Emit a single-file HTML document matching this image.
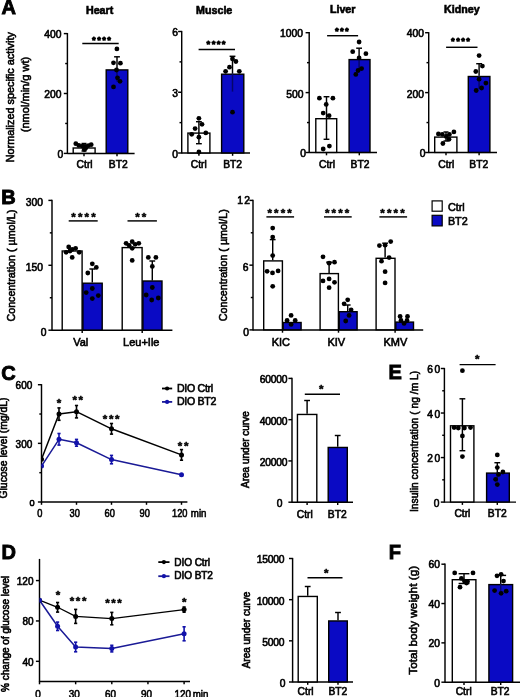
<!DOCTYPE html>
<html><head><meta charset="utf-8"><title>Figure</title>
<style>
html,body{margin:0;padding:0;background:#fff;}
body{width:520px;height:697px;overflow:hidden;}
svg{display:block;filter:blur(0.35px);}
text{font-family:"Liberation Sans", Arial, Helvetica, sans-serif;fill:#000;stroke:#000;stroke-width:0.6px;}
.pl{stroke-width:0.9px;}
.st{stroke-width:0.8px;stroke-linejoin:round;}
.st2{stroke-width:0.5px;stroke-linejoin:round;}
</style></head>
<body>
<svg width="520" height="697" viewBox="0 0 520 697">
<rect width="520" height="697" fill="#fff"/>
<text x="1.5" y="14.1" font-size="20" font-weight="bold" class="pl">A</text>
<text x="1.3" y="203.9" font-size="20" font-weight="bold" class="pl">B</text>
<text x="1.2" y="379.5" font-size="20" font-weight="bold" class="pl">C</text>
<text x="1.4" y="558.5" font-size="20" font-weight="bold" class="pl">D</text>
<text x="388.4" y="379.3" font-size="20" font-weight="bold" class="pl">E</text>
<text x="388.7" y="558.5" font-size="20" font-weight="bold" class="pl">F</text>
<text x="99.6" y="13.8" font-size="10.7" text-anchor="middle" font-weight="bold">Heart</text>
<line x1="67.4" y1="33" x2="67.4" y2="154" stroke="#000" stroke-width="1.45"/>
<line x1="63.8" y1="153.4" x2="67.4" y2="153.4" stroke="#000" stroke-width="1.45"/>
<line x1="63.8" y1="93.5" x2="67.4" y2="93.5" stroke="#000" stroke-width="1.45"/>
<line x1="63.8" y1="33.6" x2="67.4" y2="33.6" stroke="#000" stroke-width="1.45"/>
<line x1="65.2" y1="123.45" x2="67.4" y2="123.45" stroke="#000" stroke-width="1.45"/>
<line x1="65.2" y1="63.55" x2="67.4" y2="63.55" stroke="#000" stroke-width="1.45"/>
<text x="61.5" y="38.11" font-size="10.3" text-anchor="end">400</text>
<text x="61.5" y="97.71" font-size="10.3" text-anchor="end">200</text>
<text x="63.2" y="157.51" font-size="10.3" text-anchor="end">0</text>
<line x1="67.4" y1="153.4" x2="134.6" y2="153.4" stroke="#000" stroke-width="1.45"/>
<line x1="84" y1="153.4" x2="84" y2="156.2" stroke="#000" stroke-width="1.45"/>
<line x1="117" y1="153.4" x2="117" y2="156.2" stroke="#000" stroke-width="1.45"/>
<rect x="73.2" y="148" width="21.9" height="5.3" fill="#fff" stroke="#000" stroke-width="1.4"/>
<rect x="106.2" y="69.9" width="21.6" height="83.4" fill="#0a0ac4" stroke="#000" stroke-width="1.4"/>
<line x1="117" y1="69.2" x2="117" y2="81.6" stroke="#06066a" stroke-width="1.45"/>
<line x1="117" y1="69.2" x2="117" y2="56.8" stroke="#000" stroke-width="1.45"/>
<line x1="114.1" y1="56.8" x2="119.9" y2="56.8" stroke="#000" stroke-width="1.45"/>
<line x1="84" y1="151" x2="84" y2="143.5" stroke="#000" stroke-width="1.45"/>
<line x1="81.5" y1="143.5" x2="86.5" y2="143.5" stroke="#000" stroke-width="1.45"/>
<line x1="81.5" y1="151" x2="86.5" y2="151" stroke="#000" stroke-width="1.45"/>
<circle cx="116.9" cy="48.9" r="2.4" fill="#000"/>
<circle cx="113.5" cy="62.8" r="2.4" fill="#000"/>
<circle cx="120.4" cy="63.2" r="2.4" fill="#000"/>
<circle cx="117.5" cy="77.8" r="2.4" fill="#000"/>
<circle cx="120" cy="81.3" r="2.4" fill="#000"/>
<circle cx="113.5" cy="86.9" r="2.4" fill="#000"/>
<circle cx="116.5" cy="70" r="2.4" fill="#000"/>
<circle cx="75.8" cy="143.7" r="2.4" fill="#000"/>
<circle cx="78.8" cy="145.4" r="2.4" fill="#000"/>
<circle cx="82.4" cy="146.2" r="2.4" fill="#000"/>
<circle cx="85.6" cy="146.4" r="2.4" fill="#000"/>
<circle cx="88.4" cy="145.6" r="2.4" fill="#000"/>
<circle cx="91.2" cy="144.7" r="2.4" fill="#000"/>
<circle cx="84.3" cy="149.6" r="2.4" fill="#000"/>
<circle cx="85.6" cy="148.3" r="2.4" fill="#000"/>
<line x1="82.3" y1="43.4" x2="118.7" y2="43.4" stroke="#000" stroke-width="1.45"/>
<text x="102.17" y="43.1" font-size="9.5" text-anchor="middle" font-weight="bold" letter-spacing="1.33" class="st">****</text>
<text x="84.6" y="167.7" font-size="10.3" text-anchor="middle">Ctrl</text>
<text x="118.3" y="167.7" font-size="10.3" text-anchor="middle">BT2</text>
<text x="14.3" y="97.25" font-size="10.85" text-anchor="middle" transform="rotate(-90 14.3 97.25)">Normalized specific activity</text>
<text x="28.6" y="94.5" font-size="11.05" text-anchor="middle" transform="rotate(-90 28.6 94.5)">(nmol/min/g wt)</text>
<text x="214.2" y="13.6" font-size="10.7" text-anchor="middle" font-weight="bold">Muscle</text>
<line x1="181.7" y1="30.9" x2="181.7" y2="153.6" stroke="#000" stroke-width="1.45"/>
<line x1="178.1" y1="153" x2="181.7" y2="153" stroke="#000" stroke-width="1.45"/>
<line x1="178.1" y1="92.25" x2="181.7" y2="92.25" stroke="#000" stroke-width="1.45"/>
<line x1="178.1" y1="31.5" x2="181.7" y2="31.5" stroke="#000" stroke-width="1.45"/>
<line x1="179.5" y1="122.62" x2="181.7" y2="122.62" stroke="#000" stroke-width="1.45"/>
<line x1="179.5" y1="61.88" x2="181.7" y2="61.88" stroke="#000" stroke-width="1.45"/>
<text x="178" y="35.81" font-size="10.3" text-anchor="end">6</text>
<text x="178" y="96.61" font-size="10.3" text-anchor="end">3</text>
<text x="178" y="157.61" font-size="10.3" text-anchor="end">0</text>
<line x1="181.7" y1="153" x2="250" y2="153" stroke="#000" stroke-width="1.45"/>
<line x1="198.9" y1="153" x2="198.9" y2="155.8" stroke="#000" stroke-width="1.45"/>
<line x1="232.6" y1="153" x2="232.6" y2="155.8" stroke="#000" stroke-width="1.45"/>
<rect x="187.9" y="133.1" width="22" height="19.8" fill="#fff" stroke="#000" stroke-width="1.4"/>
<rect x="221.6" y="74.2" width="22.2" height="78.7" fill="#0a0ac4" stroke="#000" stroke-width="1.4"/>
<line x1="198.9" y1="143.7" x2="198.9" y2="121.7" stroke="#000" stroke-width="1.45"/>
<line x1="196" y1="121.7" x2="201.8" y2="121.7" stroke="#000" stroke-width="1.45"/>
<line x1="196" y1="143.7" x2="201.8" y2="143.7" stroke="#000" stroke-width="1.45"/>
<line x1="232.5" y1="73.5" x2="232.5" y2="91.6" stroke="#06066a" stroke-width="1.45"/>
<line x1="232.5" y1="73.5" x2="232.5" y2="56.3" stroke="#000" stroke-width="1.45"/>
<line x1="229.6" y1="56.3" x2="235.4" y2="56.3" stroke="#000" stroke-width="1.45"/>
<circle cx="198.9" cy="118.3" r="2.4" fill="#000"/>
<circle cx="202" cy="124.3" r="2.4" fill="#000"/>
<circle cx="195.1" cy="128.6" r="2.4" fill="#000"/>
<circle cx="191.7" cy="134.3" r="2.4" fill="#000"/>
<circle cx="205.8" cy="132.9" r="2.4" fill="#000"/>
<circle cx="198.9" cy="137.2" r="2.4" fill="#000"/>
<circle cx="198.9" cy="152" r="2.4" fill="#000"/>
<circle cx="232.5" cy="58.9" r="2.4" fill="#000"/>
<circle cx="235.9" cy="61.5" r="2.4" fill="#000"/>
<circle cx="229.5" cy="67.2" r="2.4" fill="#000"/>
<circle cx="225.6" cy="71.3" r="2.4" fill="#000"/>
<circle cx="239.3" cy="71.3" r="2.4" fill="#000"/>
<circle cx="232.5" cy="112.2" r="2.4" fill="#000"/>
<line x1="198.6" y1="49.5" x2="235" y2="49.5" stroke="#000" stroke-width="1.45"/>
<text x="216.67" y="47.3" font-size="9.5" text-anchor="middle" font-weight="bold" letter-spacing="1.33" class="st">****</text>
<text x="198.8" y="167.7" font-size="10.3" text-anchor="middle">Ctrl</text>
<text x="232.6" y="167.7" font-size="10.3" text-anchor="middle">BT2</text>
<text x="342.7" y="12.8" font-size="10.7" text-anchor="middle" font-weight="bold">Liver</text>
<line x1="309.2" y1="32.1" x2="309.2" y2="153.1" stroke="#000" stroke-width="1.45"/>
<line x1="305.6" y1="152.5" x2="309.2" y2="152.5" stroke="#000" stroke-width="1.45"/>
<line x1="305.6" y1="92.6" x2="309.2" y2="92.6" stroke="#000" stroke-width="1.45"/>
<line x1="305.6" y1="32.7" x2="309.2" y2="32.7" stroke="#000" stroke-width="1.45"/>
<line x1="307" y1="122.55" x2="309.2" y2="122.55" stroke="#000" stroke-width="1.45"/>
<line x1="307" y1="62.65" x2="309.2" y2="62.65" stroke="#000" stroke-width="1.45"/>
<text x="302.9" y="37.41" font-size="10.3" text-anchor="end">1000</text>
<text x="303.4" y="97.61" font-size="10.3" text-anchor="end">500</text>
<text x="306" y="156.61" font-size="10.3" text-anchor="end">0</text>
<line x1="309.2" y1="152.5" x2="377" y2="152.5" stroke="#000" stroke-width="1.45"/>
<line x1="326.5" y1="152.5" x2="326.5" y2="155.3" stroke="#000" stroke-width="1.45"/>
<line x1="359.3" y1="152.5" x2="359.3" y2="155.3" stroke="#000" stroke-width="1.45"/>
<rect x="315.8" y="118.7" width="20.9" height="33.7" fill="#fff" stroke="#000" stroke-width="1.4"/>
<rect x="349.1" y="59.6" width="20.9" height="92.8" fill="#0a0ac4" stroke="#000" stroke-width="1.4"/>
<line x1="326.5" y1="139.3" x2="326.5" y2="96.7" stroke="#000" stroke-width="1.45"/>
<line x1="323.6" y1="96.7" x2="329.4" y2="96.7" stroke="#000" stroke-width="1.45"/>
<line x1="323.6" y1="139.3" x2="329.4" y2="139.3" stroke="#000" stroke-width="1.45"/>
<line x1="359.1" y1="58.9" x2="359.1" y2="69.6" stroke="#06066a" stroke-width="1.45"/>
<line x1="359.1" y1="58.9" x2="359.1" y2="48.2" stroke="#000" stroke-width="1.45"/>
<line x1="356.2" y1="48.2" x2="362" y2="48.2" stroke="#000" stroke-width="1.45"/>
<circle cx="319.4" cy="98.2" r="2.4" fill="#000"/>
<circle cx="332.9" cy="98.2" r="2.4" fill="#000"/>
<circle cx="326.2" cy="104.4" r="2.4" fill="#000"/>
<circle cx="323.2" cy="113.1" r="2.4" fill="#000"/>
<circle cx="329.1" cy="115.7" r="2.4" fill="#000"/>
<circle cx="323.2" cy="149" r="2.4" fill="#000"/>
<circle cx="329.4" cy="146.1" r="2.4" fill="#000"/>
<circle cx="359.1" cy="42" r="2.4" fill="#000"/>
<circle cx="352.7" cy="51.7" r="2.4" fill="#000"/>
<circle cx="365.9" cy="53.7" r="2.4" fill="#000"/>
<circle cx="359.1" cy="57.9" r="2.4" fill="#000"/>
<circle cx="361.6" cy="68.6" r="2.4" fill="#000"/>
<circle cx="355.8" cy="74.4" r="2.4" fill="#000"/>
<circle cx="358.1" cy="70.5" r="2.4" fill="#000"/>
<line x1="327.1" y1="35.7" x2="358.1" y2="35.7" stroke="#000" stroke-width="1.45"/>
<text x="342.57" y="33.7" font-size="9.5" text-anchor="middle" font-weight="bold" letter-spacing="1.33" class="st">***</text>
<text x="327" y="167.7" font-size="10.3" text-anchor="middle">Ctrl</text>
<text x="360" y="167.7" font-size="10.3" text-anchor="middle">BT2</text>
<text x="461.8" y="12.6" font-size="10.7" text-anchor="middle" font-weight="bold">Kidney</text>
<line x1="428.7" y1="32.1" x2="428.7" y2="153.1" stroke="#000" stroke-width="1.45"/>
<line x1="425.1" y1="152.5" x2="428.7" y2="152.5" stroke="#000" stroke-width="1.45"/>
<line x1="425.1" y1="92.6" x2="428.7" y2="92.6" stroke="#000" stroke-width="1.45"/>
<line x1="425.1" y1="32.7" x2="428.7" y2="32.7" stroke="#000" stroke-width="1.45"/>
<line x1="426.5" y1="122.55" x2="428.7" y2="122.55" stroke="#000" stroke-width="1.45"/>
<line x1="426.5" y1="62.65" x2="428.7" y2="62.65" stroke="#000" stroke-width="1.45"/>
<text x="424" y="37.41" font-size="10.3" text-anchor="end">400</text>
<text x="424" y="97.71" font-size="10.3" text-anchor="end">200</text>
<text x="425.5" y="157.41" font-size="10.3" text-anchor="end">0</text>
<line x1="428.7" y1="152.5" x2="497" y2="152.5" stroke="#000" stroke-width="1.45"/>
<line x1="446" y1="152.5" x2="446" y2="155.3" stroke="#000" stroke-width="1.45"/>
<line x1="479.1" y1="152.5" x2="479.1" y2="155.3" stroke="#000" stroke-width="1.45"/>
<rect x="434.7" y="137.1" width="22.2" height="15.3" fill="#fff" stroke="#000" stroke-width="1.4"/>
<rect x="468.3" y="76.5" width="21.6" height="75.9" fill="#0a0ac4" stroke="#000" stroke-width="1.4"/>
<line x1="479.1" y1="75.8" x2="479.1" y2="88.9" stroke="#06066a" stroke-width="1.45"/>
<line x1="479.1" y1="75.8" x2="479.1" y2="63.7" stroke="#000" stroke-width="1.45"/>
<line x1="476.2" y1="63.7" x2="482" y2="63.7" stroke="#000" stroke-width="1.45"/>
<line x1="446" y1="141" x2="446" y2="132" stroke="#000" stroke-width="1.45"/>
<line x1="443.5" y1="132" x2="448.5" y2="132" stroke="#000" stroke-width="1.45"/>
<line x1="443.5" y1="141" x2="448.5" y2="141" stroke="#000" stroke-width="1.45"/>
<circle cx="438.4" cy="133.9" r="2.4" fill="#000"/>
<circle cx="442.3" cy="134.4" r="2.4" fill="#000"/>
<circle cx="449.4" cy="134.4" r="2.4" fill="#000"/>
<circle cx="453.9" cy="131.9" r="2.4" fill="#000"/>
<circle cx="446.2" cy="136.4" r="2.4" fill="#000"/>
<circle cx="449" cy="139.3" r="2.4" fill="#000"/>
<circle cx="442.9" cy="143.5" r="2.4" fill="#000"/>
<circle cx="479.1" cy="55.6" r="2.4" fill="#000"/>
<circle cx="482.4" cy="66.1" r="2.4" fill="#000"/>
<circle cx="475.8" cy="71.5" r="2.4" fill="#000"/>
<circle cx="485.9" cy="83.1" r="2.4" fill="#000"/>
<circle cx="481.6" cy="88" r="2.4" fill="#000"/>
<circle cx="476.2" cy="90.5" r="2.4" fill="#000"/>
<circle cx="479.1" cy="79.2" r="2.4" fill="#000"/>
<line x1="446.1" y1="47.3" x2="477.5" y2="47.3" stroke="#000" stroke-width="1.45"/>
<text x="461.17" y="43.9" font-size="9.5" text-anchor="middle" font-weight="bold" letter-spacing="1.33" class="st">****</text>
<text x="446.3" y="167.7" font-size="10.3" text-anchor="middle">Ctrl</text>
<text x="478.8" y="167.7" font-size="10.3" text-anchor="middle">BT2</text>
<line x1="52" y1="199.8" x2="52" y2="330.8" stroke="#000" stroke-width="1.45"/>
<line x1="48.4" y1="330.2" x2="52" y2="330.2" stroke="#000" stroke-width="1.45"/>
<line x1="48.4" y1="265.3" x2="52" y2="265.3" stroke="#000" stroke-width="1.45"/>
<line x1="48.4" y1="200.4" x2="52" y2="200.4" stroke="#000" stroke-width="1.45"/>
<line x1="49.8" y1="297.75" x2="52" y2="297.75" stroke="#000" stroke-width="1.45"/>
<line x1="49.8" y1="232.85" x2="52" y2="232.85" stroke="#000" stroke-width="1.45"/>
<text x="42.9" y="205.51" font-size="10.3" text-anchor="end">300</text>
<text x="42.9" y="270.51" font-size="10.3" text-anchor="end">150</text>
<text x="46.5" y="335.61" font-size="10.3" text-anchor="end">0</text>
<line x1="52" y1="330.2" x2="172.4" y2="330.2" stroke="#000" stroke-width="1.45"/>
<line x1="82.2" y1="330.2" x2="82.2" y2="333" stroke="#000" stroke-width="1.45"/>
<line x1="142.2" y1="330.2" x2="142.2" y2="333" stroke="#000" stroke-width="1.45"/>
<rect x="62.2" y="251" width="19.9" height="79.1" fill="#fff" stroke="#000" stroke-width="1.4"/>
<rect x="82.9" y="283.2" width="19.3" height="46.9" fill="#0a0ac4" stroke="#000" stroke-width="1.4"/>
<rect x="122.2" y="247.6" width="19.9" height="82.5" fill="#fff" stroke="#000" stroke-width="1.4"/>
<rect x="142.9" y="281" width="19.1" height="49.1" fill="#0a0ac4" stroke="#000" stroke-width="1.4"/>
<line x1="92.3" y1="282.5" x2="92.3" y2="269" stroke="#000" stroke-width="1.45"/>
<line x1="89.4" y1="269" x2="95.2" y2="269" stroke="#000" stroke-width="1.45"/>
<line x1="152.3" y1="280.5" x2="152.3" y2="261" stroke="#000" stroke-width="1.45"/>
<line x1="149.4" y1="261" x2="155.2" y2="261" stroke="#000" stroke-width="1.45"/>
<circle cx="66.1" cy="252.3" r="2.4" fill="#000"/>
<circle cx="68.7" cy="246.9" r="2.4" fill="#000"/>
<circle cx="72.2" cy="249.3" r="2.4" fill="#000"/>
<circle cx="75.6" cy="248.3" r="2.4" fill="#000"/>
<circle cx="79.2" cy="252.3" r="2.4" fill="#000"/>
<circle cx="72.2" cy="257.4" r="2.4" fill="#000"/>
<circle cx="70" cy="251" r="2.4" fill="#000"/>
<circle cx="92.3" cy="263.8" r="2.4" fill="#000"/>
<circle cx="96.3" cy="267.4" r="2.4" fill="#000"/>
<circle cx="87.8" cy="273" r="2.4" fill="#000"/>
<circle cx="92.3" cy="288.5" r="2.4" fill="#000"/>
<circle cx="86.2" cy="292.6" r="2.4" fill="#000"/>
<circle cx="98.3" cy="295.6" r="2.4" fill="#000"/>
<circle cx="92.3" cy="298.6" r="2.4" fill="#000"/>
<circle cx="126.1" cy="243.3" r="2.4" fill="#000"/>
<circle cx="129.1" cy="245.3" r="2.4" fill="#000"/>
<circle cx="132.2" cy="241.7" r="2.4" fill="#000"/>
<circle cx="138.8" cy="243.3" r="2.4" fill="#000"/>
<circle cx="132.2" cy="248.3" r="2.4" fill="#000"/>
<circle cx="135.2" cy="244.3" r="2.4" fill="#000"/>
<circle cx="132.2" cy="260.4" r="2.4" fill="#000"/>
<circle cx="148.3" cy="257.4" r="2.4" fill="#000"/>
<circle cx="155.9" cy="257.4" r="2.4" fill="#000"/>
<circle cx="152.3" cy="266.4" r="2.4" fill="#000"/>
<circle cx="152.3" cy="287.5" r="2.4" fill="#000"/>
<circle cx="146.2" cy="295" r="2.4" fill="#000"/>
<circle cx="158.3" cy="298" r="2.4" fill="#000"/>
<circle cx="151.7" cy="300" r="2.4" fill="#000"/>
<line x1="68.7" y1="220.9" x2="97.7" y2="220.9" stroke="#000" stroke-width="1.45"/>
<text x="84.56" y="221.13" font-size="11.5" text-anchor="middle" font-weight="bold" letter-spacing="2.13" class="st2">****</text>
<line x1="127.5" y1="220.9" x2="156.9" y2="220.9" stroke="#000" stroke-width="1.45"/>
<text x="141.76" y="221.13" font-size="11.5" text-anchor="middle" font-weight="bold" letter-spacing="2.13" class="st2">**</text>
<text x="80.7" y="345.8" font-size="11.0" text-anchor="middle">Val</text>
<text x="141.3" y="345.8" font-size="11.0" text-anchor="middle">Leu+Ile</text>
<text x="15.4" y="265.6" font-size="10.7" text-anchor="middle" transform="rotate(-90 15.4 265.6)">Concentration ( µmol/L)</text>
<line x1="253" y1="199.8" x2="253" y2="330.5" stroke="#000" stroke-width="1.45"/>
<line x1="249.4" y1="329.9" x2="253" y2="329.9" stroke="#000" stroke-width="1.45"/>
<line x1="249.4" y1="265.15" x2="253" y2="265.15" stroke="#000" stroke-width="1.45"/>
<line x1="249.4" y1="200.4" x2="253" y2="200.4" stroke="#000" stroke-width="1.45"/>
<line x1="250.8" y1="297.52" x2="253" y2="297.52" stroke="#000" stroke-width="1.45"/>
<line x1="250.8" y1="232.77" x2="253" y2="232.77" stroke="#000" stroke-width="1.45"/>
<text x="248.5" y="270.51" font-size="10.3" text-anchor="end">6</text>
<text x="249" y="336.11" font-size="10.3" text-anchor="end">0</text>
<text x="251.2" y="204.45" font-size="10.3" text-anchor="end" letter-spacing="1.2">12</text>
<line x1="253" y1="329.9" x2="423.2" y2="329.9" stroke="#000" stroke-width="1.45"/>
<line x1="282.5" y1="329.9" x2="282.5" y2="332.7" stroke="#000" stroke-width="1.45"/>
<line x1="338.5" y1="329.9" x2="338.5" y2="332.7" stroke="#000" stroke-width="1.45"/>
<line x1="395.1" y1="329.9" x2="395.1" y2="332.7" stroke="#000" stroke-width="1.45"/>
<rect x="263.7" y="260.9" width="18.7" height="68.9" fill="#fff" stroke="#000" stroke-width="1.4"/>
<rect x="283.2" y="322.5" width="17.9" height="7.3" fill="#0a0ac4" stroke="#000" stroke-width="1.4"/>
<rect x="320.1" y="273.6" width="18.3" height="56.2" fill="#fff" stroke="#000" stroke-width="1.4"/>
<rect x="339.2" y="311.7" width="17.9" height="18.1" fill="#0a0ac4" stroke="#000" stroke-width="1.4"/>
<rect x="376.1" y="258.3" width="18.9" height="71.5" fill="#fff" stroke="#000" stroke-width="1.4"/>
<rect x="395.8" y="322.1" width="17.7" height="7.7" fill="#0a0ac4" stroke="#000" stroke-width="1.4"/>
<line x1="272.7" y1="260.2" x2="272.7" y2="239.6" stroke="#000" stroke-width="1.45"/>
<line x1="269.8" y1="239.6" x2="275.6" y2="239.6" stroke="#000" stroke-width="1.45"/>
<line x1="329.1" y1="272.9" x2="329.1" y2="262.2" stroke="#000" stroke-width="1.45"/>
<line x1="326.2" y1="262.2" x2="332" y2="262.2" stroke="#000" stroke-width="1.45"/>
<line x1="385.1" y1="257.6" x2="385.1" y2="243.2" stroke="#000" stroke-width="1.45"/>
<line x1="382.2" y1="243.2" x2="388" y2="243.2" stroke="#000" stroke-width="1.45"/>
<line x1="347.7" y1="311" x2="347.7" y2="305" stroke="#000" stroke-width="1.45"/>
<line x1="344.8" y1="305" x2="350.6" y2="305" stroke="#000" stroke-width="1.45"/>
<circle cx="272.7" cy="228.1" r="2.4" fill="#000"/>
<circle cx="272.7" cy="237.1" r="2.4" fill="#000"/>
<circle cx="272.7" cy="255.6" r="2.4" fill="#000"/>
<circle cx="267.1" cy="271.3" r="2.4" fill="#000"/>
<circle cx="272.5" cy="272.9" r="2.4" fill="#000"/>
<circle cx="278.1" cy="270.9" r="2.4" fill="#000"/>
<circle cx="272.7" cy="286.3" r="2.4" fill="#000"/>
<circle cx="291.1" cy="315.4" r="2.4" fill="#000"/>
<circle cx="287.1" cy="320.4" r="2.4" fill="#000"/>
<circle cx="295.2" cy="320.4" r="2.4" fill="#000"/>
<circle cx="291.1" cy="324.4" r="2.4" fill="#000"/>
<circle cx="323" cy="256.8" r="2.4" fill="#000"/>
<circle cx="329.1" cy="263.2" r="2.4" fill="#000"/>
<circle cx="334.5" cy="262.2" r="2.4" fill="#000"/>
<circle cx="323" cy="280.9" r="2.4" fill="#000"/>
<circle cx="329.1" cy="278.9" r="2.4" fill="#000"/>
<circle cx="334.5" cy="282.3" r="2.4" fill="#000"/>
<circle cx="329.1" cy="287.7" r="2.4" fill="#000"/>
<circle cx="347.7" cy="299.8" r="2.4" fill="#000"/>
<circle cx="344.1" cy="303.8" r="2.4" fill="#000"/>
<circle cx="351.1" cy="309.8" r="2.4" fill="#000"/>
<circle cx="349.1" cy="315.4" r="2.4" fill="#000"/>
<circle cx="345.7" cy="321" r="2.4" fill="#000"/>
<circle cx="379.4" cy="245.6" r="2.4" fill="#000"/>
<circle cx="385.1" cy="245.2" r="2.4" fill="#000"/>
<circle cx="390.7" cy="241.6" r="2.4" fill="#000"/>
<circle cx="381.5" cy="261.2" r="2.4" fill="#000"/>
<circle cx="389.1" cy="257.6" r="2.4" fill="#000"/>
<circle cx="385.1" cy="271.7" r="2.4" fill="#000"/>
<circle cx="385.1" cy="282.9" r="2.4" fill="#000"/>
<circle cx="400.1" cy="316.4" r="2.4" fill="#000"/>
<circle cx="407.5" cy="316.4" r="2.4" fill="#000"/>
<circle cx="404.1" cy="323.4" r="2.4" fill="#000"/>
<circle cx="401" cy="320.5" r="2.4" fill="#000"/>
<circle cx="407" cy="320.5" r="2.4" fill="#000"/>
<line x1="266.4" y1="216.9" x2="294.1" y2="216.9" stroke="#000" stroke-width="1.45"/>
<text x="280.66" y="216.73" font-size="11.5" text-anchor="middle" font-weight="bold" letter-spacing="2.13" class="st2">****</text>
<line x1="324" y1="216.9" x2="351.7" y2="216.9" stroke="#000" stroke-width="1.45"/>
<text x="338.16" y="216.73" font-size="11.5" text-anchor="middle" font-weight="bold" letter-spacing="2.13" class="st2">****</text>
<line x1="379.4" y1="216.9" x2="407.1" y2="216.9" stroke="#000" stroke-width="1.45"/>
<text x="393.56" y="216.73" font-size="11.5" text-anchor="middle" font-weight="bold" letter-spacing="2.13" class="st2">****</text>
<text x="280.8" y="345.9" font-size="11.0" text-anchor="middle">KIC</text>
<text x="336.3" y="345.9" font-size="11.0" text-anchor="middle">KIV</text>
<text x="395.3" y="345.9" font-size="11.0" text-anchor="middle">KMV</text>
<text x="226.6" y="265.2" font-size="10.7" text-anchor="middle" transform="rotate(-90 226.6 265.2)">Concentration ( µmol/L)</text>
<rect x="432.1" y="200.9" width="10.1" height="10.3" fill="#fff" stroke="#000" stroke-width="1.2"/>
<rect x="432.1" y="215.3" width="10.1" height="10.6" fill="#0a0ac4" stroke="#000" stroke-width="1.2"/>
<text x="447.9" y="210.7" font-size="10.8">Ctrl</text>
<text x="447.9" y="224.6" font-size="10.8">BT2</text>
<line x1="41.5" y1="384.1" x2="41.5" y2="502.6" stroke="#000" stroke-width="1.45"/>
<line x1="37.9" y1="502" x2="41.5" y2="502" stroke="#000" stroke-width="1.45"/>
<line x1="37.9" y1="443.35" x2="41.5" y2="443.35" stroke="#000" stroke-width="1.45"/>
<line x1="37.9" y1="384.7" x2="41.5" y2="384.7" stroke="#000" stroke-width="1.45"/>
<line x1="39.3" y1="472.68" x2="41.5" y2="472.68" stroke="#000" stroke-width="1.45"/>
<line x1="39.3" y1="414.02" x2="41.5" y2="414.02" stroke="#000" stroke-width="1.45"/>
<text x="32.3" y="388.7" font-size="10.0" text-anchor="end">600</text>
<text x="32.3" y="448.4" font-size="10.0" text-anchor="end">300</text>
<text x="34.6" y="505.5" font-size="9.2" text-anchor="end">0</text>
<line x1="41.5" y1="502" x2="187.4" y2="502" stroke="#000" stroke-width="1.45"/>
<line x1="41.5" y1="502" x2="41.5" y2="504.8" stroke="#000" stroke-width="1.45"/>
<line x1="76.5" y1="502" x2="76.5" y2="504.8" stroke="#000" stroke-width="1.45"/>
<line x1="111.5" y1="502" x2="111.5" y2="504.8" stroke="#000" stroke-width="1.45"/>
<line x1="146.5" y1="502" x2="146.5" y2="504.8" stroke="#000" stroke-width="1.45"/>
<line x1="181.5" y1="502" x2="181.5" y2="504.8" stroke="#000" stroke-width="1.45"/>
<text transform="translate(39.75 516.8) scale(0.86 1)" font-size="10.8" text-anchor="middle">0</text>
<text transform="translate(74.75 516.8) scale(0.86 1)" font-size="10.8" text-anchor="middle">30</text>
<text transform="translate(109.75 516.8) scale(0.86 1)" font-size="10.8" text-anchor="middle">60</text>
<text transform="translate(144.75 516.8) scale(0.86 1)" font-size="10.8" text-anchor="middle">90</text>
<text transform="translate(179.75 516.8) scale(0.86 1)" font-size="10.8" text-anchor="middle">120</text>
<text transform="translate(190.8 516.8) scale(0.9 1)" font-size="10.8">min</text>
<polyline points="41.5,459.2 59,414.1 76.5,411.7 111.5,428.8 181.5,454.9" fill="none" stroke="#000" stroke-width="1.5" stroke-linejoin="round"/>
<polyline points="41.5,466.1 59,439.3 76.5,442.8 111.5,459.6 181.5,474.7" fill="none" stroke="#1a1a96" stroke-width="1.5" stroke-linejoin="round"/>
<path d="M41.5,456.7 A2.5,2.5 0 0 1 41.5,461.7 Z" fill="#000"/>
<line x1="59" y1="420.3" x2="59" y2="407.9" stroke="#000" stroke-width="1.6"/>
<line x1="57.4" y1="407.9" x2="60.6" y2="407.9" stroke="#000" stroke-width="1.6"/>
<line x1="57.4" y1="420.3" x2="60.6" y2="420.3" stroke="#000" stroke-width="1.6"/>
<circle cx="59" cy="414.1" r="2.5" fill="#000"/>
<line x1="76.5" y1="417.9" x2="76.5" y2="405.5" stroke="#000" stroke-width="1.6"/>
<line x1="74.9" y1="405.5" x2="78.1" y2="405.5" stroke="#000" stroke-width="1.6"/>
<line x1="74.9" y1="417.9" x2="78.1" y2="417.9" stroke="#000" stroke-width="1.6"/>
<circle cx="76.5" cy="411.7" r="2.5" fill="#000"/>
<line x1="111.5" y1="434.1" x2="111.5" y2="423.5" stroke="#000" stroke-width="1.6"/>
<line x1="109.9" y1="423.5" x2="113.1" y2="423.5" stroke="#000" stroke-width="1.6"/>
<line x1="109.9" y1="434.1" x2="113.1" y2="434.1" stroke="#000" stroke-width="1.6"/>
<circle cx="111.5" cy="428.8" r="2.5" fill="#000"/>
<line x1="181.5" y1="460.2" x2="181.5" y2="449.6" stroke="#000" stroke-width="1.6"/>
<line x1="179.9" y1="449.6" x2="183.1" y2="449.6" stroke="#000" stroke-width="1.6"/>
<line x1="179.9" y1="460.2" x2="183.1" y2="460.2" stroke="#000" stroke-width="1.6"/>
<circle cx="181.5" cy="454.9" r="2.5" fill="#000"/>
<path d="M41.5,463.6 A2.5,2.5 0 0 1 41.5,468.6 Z" fill="#1212aa"/>
<line x1="59" y1="445.1" x2="59" y2="433.5" stroke="#1212aa" stroke-width="1.6"/>
<line x1="57.4" y1="433.5" x2="60.6" y2="433.5" stroke="#1212aa" stroke-width="1.6"/>
<line x1="57.4" y1="445.1" x2="60.6" y2="445.1" stroke="#1212aa" stroke-width="1.6"/>
<circle cx="59" cy="439.3" r="2.5" fill="#1212aa"/>
<line x1="76.5" y1="446.2" x2="76.5" y2="439.4" stroke="#1212aa" stroke-width="1.6"/>
<line x1="74.9" y1="439.4" x2="78.1" y2="439.4" stroke="#1212aa" stroke-width="1.6"/>
<line x1="74.9" y1="446.2" x2="78.1" y2="446.2" stroke="#1212aa" stroke-width="1.6"/>
<circle cx="76.5" cy="442.8" r="2.5" fill="#1212aa"/>
<line x1="111.5" y1="463.8" x2="111.5" y2="455.4" stroke="#1212aa" stroke-width="1.6"/>
<line x1="109.9" y1="455.4" x2="113.1" y2="455.4" stroke="#1212aa" stroke-width="1.6"/>
<line x1="109.9" y1="463.8" x2="113.1" y2="463.8" stroke="#1212aa" stroke-width="1.6"/>
<circle cx="111.5" cy="459.6" r="2.5" fill="#1212aa"/>
<circle cx="181.5" cy="474.7" r="2.5" fill="#1212aa"/>
<text x="59.71" y="406.83" font-size="11.5" text-anchor="middle" font-weight="bold" letter-spacing="1.63" class="st2">*</text>
<text x="78.51" y="403.93" font-size="11.5" text-anchor="middle" font-weight="bold" letter-spacing="1.63" class="st2">**</text>
<text x="111.96" y="422.73" font-size="11.5" text-anchor="middle" font-weight="bold" letter-spacing="1.63" class="st2">***</text>
<text x="183.91" y="450.23" font-size="11.5" text-anchor="middle" font-weight="bold" letter-spacing="1.63" class="st2">**</text>
<line x1="162" y1="388.5" x2="172.2" y2="388.5" stroke="#000" stroke-width="1.8"/>
<circle cx="167.1" cy="388.5" r="2.1" fill="#000"/>
<line x1="162" y1="401.9" x2="172.2" y2="401.9" stroke="#1a1a96" stroke-width="1.8"/>
<circle cx="167.1" cy="401.9" r="2.1" fill="#1212aa"/>
<text x="177" y="391.6" font-size="10.6" letter-spacing="-0.3">DIO Ctrl</text>
<text x="177" y="405.2" font-size="10.6" letter-spacing="-0.3">DIO BT2</text>
<text x="7" y="448" font-size="10.4" text-anchor="middle" transform="rotate(-90 7 448)">Glucose level (mg/dL)</text>
<line x1="292" y1="377.8" x2="292" y2="502.8" stroke="#000" stroke-width="1.45"/>
<line x1="288.4" y1="502.2" x2="292" y2="502.2" stroke="#000" stroke-width="1.45"/>
<line x1="288.4" y1="460.93" x2="292" y2="460.93" stroke="#000" stroke-width="1.45"/>
<line x1="288.4" y1="419.67" x2="292" y2="419.67" stroke="#000" stroke-width="1.45"/>
<line x1="288.4" y1="378.4" x2="292" y2="378.4" stroke="#000" stroke-width="1.45"/>
<text x="287.15" y="382.71" font-size="10.3" text-anchor="end" letter-spacing="-0.25">60000</text>
<text x="287.15" y="424.51" font-size="10.3" text-anchor="end" letter-spacing="-0.25">40000</text>
<text x="287.15" y="466.11" font-size="10.3" text-anchor="end" letter-spacing="-0.25">20000</text>
<text x="282.15" y="507.21" font-size="10.3" text-anchor="end" letter-spacing="-0.25">0</text>
<line x1="292" y1="502.2" x2="353" y2="502.2" stroke="#000" stroke-width="1.45"/>
<line x1="307.1" y1="502.2" x2="307.1" y2="505" stroke="#000" stroke-width="1.45"/>
<line x1="337.7" y1="502.2" x2="337.7" y2="505" stroke="#000" stroke-width="1.45"/>
<line x1="307.1" y1="413.75" x2="307.1" y2="400.5" stroke="#000" stroke-width="1.45"/>
<line x1="304.2" y1="400.5" x2="310" y2="400.5" stroke="#000" stroke-width="1.45"/>
<line x1="337.7" y1="446.75" x2="337.7" y2="435.5" stroke="#000" stroke-width="1.45"/>
<line x1="334.8" y1="435.5" x2="340.6" y2="435.5" stroke="#000" stroke-width="1.45"/>
<rect x="297.45" y="414.45" width="19.35" height="87.65" fill="#fff" stroke="#000" stroke-width="1.4"/>
<rect x="328.2" y="447.45" width="19.1" height="54.65" fill="#0a0ac4" stroke="#000" stroke-width="1.4"/>
<line x1="304.8" y1="394.3" x2="340" y2="394.3" stroke="#000" stroke-width="1.45"/>
<text x="322.01" y="393.13" font-size="11.5" text-anchor="middle" font-weight="bold" letter-spacing="1.63" class="st2">*</text>
<text x="304.8" y="517.6" font-size="10.3" text-anchor="middle">Ctrl</text>
<text x="337.3" y="517.6" font-size="10.3" text-anchor="middle">BT2</text>
<text x="249" y="449.6" font-size="10.0" text-anchor="middle" transform="rotate(-90 249 449.6)">Area under curve</text>
<line x1="444.4" y1="367.9" x2="444.4" y2="502.7" stroke="#000" stroke-width="1.45"/>
<line x1="440.8" y1="502.1" x2="444.4" y2="502.1" stroke="#000" stroke-width="1.45"/>
<line x1="440.8" y1="457.57" x2="444.4" y2="457.57" stroke="#000" stroke-width="1.45"/>
<line x1="440.8" y1="413.03" x2="444.4" y2="413.03" stroke="#000" stroke-width="1.45"/>
<line x1="440.8" y1="368.5" x2="444.4" y2="368.5" stroke="#000" stroke-width="1.45"/>
<line x1="442.2" y1="479.83" x2="444.4" y2="479.83" stroke="#000" stroke-width="1.45"/>
<line x1="442.2" y1="435.3" x2="444.4" y2="435.3" stroke="#000" stroke-width="1.45"/>
<line x1="442.2" y1="390.77" x2="444.4" y2="390.77" stroke="#000" stroke-width="1.45"/>
<text x="441.9" y="372.77" font-size="10.2" text-anchor="end" letter-spacing="1.7">60</text>
<text x="441.9" y="417.67" font-size="10.2" text-anchor="end" letter-spacing="1.7">40</text>
<text x="441.9" y="461.87" font-size="10.2" text-anchor="end" letter-spacing="1.7">20</text>
<text x="441" y="506.57" font-size="10.2" text-anchor="end" letter-spacing="1.7">0</text>
<line x1="444.4" y1="502.1" x2="516" y2="502.1" stroke="#000" stroke-width="1.45"/>
<line x1="462.4" y1="502.1" x2="462.4" y2="504.9" stroke="#000" stroke-width="1.45"/>
<line x1="497.3" y1="502.1" x2="497.3" y2="504.9" stroke="#000" stroke-width="1.45"/>
<rect x="450.5" y="425.8" width="23.4" height="76.2" fill="#fff" stroke="#000" stroke-width="1.4"/>
<rect x="486.6" y="473.1" width="22.7" height="28.9" fill="#0a0ac4" stroke="#000" stroke-width="1.4"/>
<line x1="462.4" y1="450.7" x2="462.4" y2="398.8" stroke="#000" stroke-width="1.45"/>
<line x1="459.5" y1="398.8" x2="465.3" y2="398.8" stroke="#000" stroke-width="1.45"/>
<line x1="459.5" y1="450.7" x2="465.3" y2="450.7" stroke="#000" stroke-width="1.45"/>
<line x1="497.3" y1="472.4" x2="497.3" y2="481.7" stroke="#06066a" stroke-width="1.45"/>
<line x1="497.3" y1="472.4" x2="497.3" y2="462.7" stroke="#000" stroke-width="1.45"/>
<line x1="494.4" y1="462.7" x2="500.2" y2="462.7" stroke="#000" stroke-width="1.45"/>
<circle cx="462.4" cy="370.7" r="2.4" fill="#000"/>
<circle cx="454.1" cy="427.6" r="2.4" fill="#000"/>
<circle cx="458.3" cy="428" r="2.4" fill="#000"/>
<circle cx="464.4" cy="428" r="2.4" fill="#000"/>
<circle cx="470.5" cy="427.6" r="2.4" fill="#000"/>
<circle cx="462.4" cy="435.9" r="2.4" fill="#000"/>
<circle cx="462.4" cy="456.6" r="2.4" fill="#000"/>
<circle cx="497.3" cy="454.9" r="2.4" fill="#000"/>
<circle cx="497.3" cy="467.6" r="2.4" fill="#000"/>
<circle cx="502.9" cy="472" r="2.4" fill="#000"/>
<circle cx="498.5" cy="474.4" r="2.4" fill="#000"/>
<circle cx="495.6" cy="479.3" r="2.4" fill="#000"/>
<circle cx="497.3" cy="484.6" r="2.4" fill="#000"/>
<line x1="459.6" y1="364.6" x2="495.6" y2="364.6" stroke="#000" stroke-width="1.45"/>
<text x="478.11" y="362.83" font-size="11.5" text-anchor="middle" font-weight="bold" letter-spacing="1.63" class="st2">*</text>
<text x="462.4" y="517.1" font-size="10.3" text-anchor="middle">Ctrl</text>
<text x="497.3" y="517.1" font-size="10.3" text-anchor="middle">BT2</text>
<text x="418.4" y="441.4" font-size="10.3" text-anchor="middle" transform="rotate(-90 418.4 441.4)">Insulin concentration ( ng /m L)</text>
<line x1="39.5" y1="558.9" x2="39.5" y2="682.1" stroke="#000" stroke-width="1.45"/>
<line x1="35.9" y1="661.32" x2="39.5" y2="661.32" stroke="#000" stroke-width="1.45"/>
<line x1="35.9" y1="620.95" x2="39.5" y2="620.95" stroke="#000" stroke-width="1.45"/>
<line x1="35.9" y1="580.58" x2="39.5" y2="580.58" stroke="#000" stroke-width="1.45"/>
<text x="33.5" y="584.8" font-size="10.0" text-anchor="end">120</text>
<text x="33.5" y="625.2" font-size="10.0" text-anchor="end">80</text>
<text x="33.5" y="665.6" font-size="10.0" text-anchor="end">40</text>
<line x1="39.5" y1="681.5" x2="190" y2="681.5" stroke="#000" stroke-width="1.45"/>
<line x1="39.5" y1="681.5" x2="39.5" y2="684.3" stroke="#000" stroke-width="1.45"/>
<line x1="75.65" y1="681.5" x2="75.65" y2="684.3" stroke="#000" stroke-width="1.45"/>
<line x1="111.8" y1="681.5" x2="111.8" y2="684.3" stroke="#000" stroke-width="1.45"/>
<line x1="147.95" y1="681.5" x2="147.95" y2="684.3" stroke="#000" stroke-width="1.45"/>
<line x1="184.1" y1="681.5" x2="184.1" y2="684.3" stroke="#000" stroke-width="1.45"/>
<text transform="translate(38.1 698.1) scale(0.92 1)" font-size="10.8" text-anchor="middle">0</text>
<text transform="translate(74.25 698.1) scale(0.92 1)" font-size="10.8" text-anchor="middle">30</text>
<text transform="translate(110.4 698.1) scale(0.92 1)" font-size="10.8" text-anchor="middle">60</text>
<text transform="translate(146.55 698.1) scale(0.92 1)" font-size="10.8" text-anchor="middle">90</text>
<text transform="translate(182.7 698.1) scale(0.92 1)" font-size="10.8" text-anchor="middle">120</text>
<text transform="translate(192.7 698.1) scale(0.9 1)" font-size="10.8">min</text>
<polyline points="39.5,600.2 57.58,607.3 75.65,616.4 111.8,618.6 184.1,609.6" fill="none" stroke="#000" stroke-width="1.25" stroke-linejoin="round"/>
<polyline points="39.5,600.2 57.58,626.3 75.65,647 111.8,648.6 184.1,633.8" fill="none" stroke="#1a1a96" stroke-width="1.5" stroke-linejoin="round"/>
<path d="M39.5,597.7 A2.5,2.5 0 0 1 39.5,602.7 Z" fill="#000"/>
<line x1="57.58" y1="612.1" x2="57.58" y2="602.5" stroke="#000" stroke-width="1.6"/>
<line x1="55.98" y1="602.5" x2="59.18" y2="602.5" stroke="#000" stroke-width="1.6"/>
<line x1="55.98" y1="612.1" x2="59.18" y2="612.1" stroke="#000" stroke-width="1.6"/>
<circle cx="57.58" cy="607.3" r="2.5" fill="#000"/>
<line x1="75.65" y1="623.4" x2="75.65" y2="609.4" stroke="#000" stroke-width="1.6"/>
<line x1="74.05" y1="609.4" x2="77.25" y2="609.4" stroke="#000" stroke-width="1.6"/>
<line x1="74.05" y1="623.4" x2="77.25" y2="623.4" stroke="#000" stroke-width="1.6"/>
<circle cx="75.65" cy="616.4" r="2.5" fill="#000"/>
<line x1="111.8" y1="624.8" x2="111.8" y2="612.4" stroke="#000" stroke-width="1.6"/>
<line x1="110.2" y1="612.4" x2="113.4" y2="612.4" stroke="#000" stroke-width="1.6"/>
<line x1="110.2" y1="624.8" x2="113.4" y2="624.8" stroke="#000" stroke-width="1.6"/>
<circle cx="111.8" cy="618.6" r="2.5" fill="#000"/>
<line x1="184.1" y1="612.2" x2="184.1" y2="607" stroke="#000" stroke-width="1.6"/>
<line x1="182.5" y1="607" x2="185.7" y2="607" stroke="#000" stroke-width="1.6"/>
<line x1="182.5" y1="612.2" x2="185.7" y2="612.2" stroke="#000" stroke-width="1.6"/>
<circle cx="184.1" cy="609.6" r="2.5" fill="#000"/>
<path d="M39.5,597.7 A2.5,2.5 0 0 1 39.5,602.7 Z" fill="#1212aa"/>
<line x1="57.58" y1="630.5" x2="57.58" y2="622.1" stroke="#1212aa" stroke-width="1.6"/>
<line x1="55.98" y1="622.1" x2="59.18" y2="622.1" stroke="#1212aa" stroke-width="1.6"/>
<line x1="55.98" y1="630.5" x2="59.18" y2="630.5" stroke="#1212aa" stroke-width="1.6"/>
<circle cx="57.58" cy="626.3" r="2.5" fill="#1212aa"/>
<line x1="75.65" y1="651.8" x2="75.65" y2="642.2" stroke="#1212aa" stroke-width="1.6"/>
<line x1="74.05" y1="642.2" x2="77.25" y2="642.2" stroke="#1212aa" stroke-width="1.6"/>
<line x1="74.05" y1="651.8" x2="77.25" y2="651.8" stroke="#1212aa" stroke-width="1.6"/>
<circle cx="75.65" cy="647" r="2.5" fill="#1212aa"/>
<line x1="111.8" y1="651.9" x2="111.8" y2="645.3" stroke="#1212aa" stroke-width="1.6"/>
<line x1="110.2" y1="645.3" x2="113.4" y2="645.3" stroke="#1212aa" stroke-width="1.6"/>
<line x1="110.2" y1="651.9" x2="113.4" y2="651.9" stroke="#1212aa" stroke-width="1.6"/>
<circle cx="111.8" cy="648.6" r="2.5" fill="#1212aa"/>
<line x1="184.1" y1="640.8" x2="184.1" y2="626.8" stroke="#1212aa" stroke-width="1.6"/>
<line x1="182.5" y1="626.8" x2="185.7" y2="626.8" stroke="#1212aa" stroke-width="1.6"/>
<line x1="182.5" y1="640.8" x2="185.7" y2="640.8" stroke="#1212aa" stroke-width="1.6"/>
<circle cx="184.1" cy="633.8" r="2.5" fill="#1212aa"/>
<text x="58.81" y="599.23" font-size="11.5" text-anchor="middle" font-weight="bold" letter-spacing="1.63" class="st2">*</text>
<text x="78.91" y="604.93" font-size="11.5" text-anchor="middle" font-weight="bold" letter-spacing="1.63" class="st2">***</text>
<text x="114.31" y="607.13" font-size="11.5" text-anchor="middle" font-weight="bold" letter-spacing="1.63" class="st2">***</text>
<text x="185.01" y="605.73" font-size="11.5" text-anchor="middle" font-weight="bold" letter-spacing="1.63" class="st2">*</text>
<line x1="158.3" y1="562.1" x2="169.5" y2="562.1" stroke="#000" stroke-width="1.8"/>
<circle cx="163.9" cy="562.1" r="2.1" fill="#000"/>
<line x1="158.3" y1="576.2" x2="169.5" y2="576.2" stroke="#1a1a96" stroke-width="1.8"/>
<circle cx="163.9" cy="576.2" r="2.1" fill="#1212aa"/>
<text x="174.3" y="565.5" font-size="10.1" letter-spacing="-0.1">DIO Ctrl</text>
<text x="174.3" y="579.3" font-size="10.1" letter-spacing="-0.1">DIO BT2</text>
<text x="8.8" y="633.8" font-size="10.0" text-anchor="middle" transform="rotate(-90 8.8 633.8)">% change of glucose level</text>
<line x1="292.6" y1="557.9" x2="292.6" y2="682.6" stroke="#000" stroke-width="1.45"/>
<line x1="289" y1="682" x2="292.6" y2="682" stroke="#000" stroke-width="1.45"/>
<line x1="289" y1="640.83" x2="292.6" y2="640.83" stroke="#000" stroke-width="1.45"/>
<line x1="289" y1="599.67" x2="292.6" y2="599.67" stroke="#000" stroke-width="1.45"/>
<line x1="289" y1="558.5" x2="292.6" y2="558.5" stroke="#000" stroke-width="1.45"/>
<text x="284.15" y="563.31" font-size="10.3" text-anchor="end" letter-spacing="-0.25">15000</text>
<text x="284.15" y="604.91" font-size="10.3" text-anchor="end" letter-spacing="-0.25">10000</text>
<text x="284.15" y="646.11" font-size="10.3" text-anchor="end" letter-spacing="-0.25">5000</text>
<text x="285.15" y="687.21" font-size="10.3" text-anchor="end" letter-spacing="-0.25">0</text>
<line x1="292.6" y1="682" x2="353" y2="682" stroke="#000" stroke-width="1.45"/>
<line x1="307.7" y1="682" x2="307.7" y2="684.8" stroke="#000" stroke-width="1.45"/>
<line x1="338" y1="682" x2="338" y2="684.8" stroke="#000" stroke-width="1.45"/>
<line x1="307.7" y1="595.75" x2="307.7" y2="586.5" stroke="#000" stroke-width="1.45"/>
<line x1="304.8" y1="586.5" x2="310.6" y2="586.5" stroke="#000" stroke-width="1.45"/>
<line x1="338" y1="620.25" x2="338" y2="612.5" stroke="#000" stroke-width="1.45"/>
<line x1="335.1" y1="612.5" x2="340.9" y2="612.5" stroke="#000" stroke-width="1.45"/>
<rect x="298.2" y="596.45" width="19.1" height="85.45" fill="#fff" stroke="#000" stroke-width="1.4"/>
<rect x="328.7" y="620.95" width="18.6" height="60.95" fill="#0a0ac4" stroke="#000" stroke-width="1.4"/>
<line x1="307.5" y1="577.8" x2="342.5" y2="577.8" stroke="#000" stroke-width="1.45"/>
<text x="327.06" y="576.78" font-size="11.5" text-anchor="middle" font-weight="bold" letter-spacing="1.63" class="st2">*</text>
<text x="305.6" y="695.3" font-size="10.3" text-anchor="middle">Ctrl</text>
<text x="337.9" y="695.3" font-size="10.3" text-anchor="middle">BT2</text>
<text x="249.5" y="630" font-size="10.0" text-anchor="middle" transform="rotate(-90 249.5 630)">Area under curve</text>
<line x1="445" y1="563.6" x2="445" y2="682.8" stroke="#000" stroke-width="1.45"/>
<line x1="441.4" y1="682.2" x2="445" y2="682.2" stroke="#000" stroke-width="1.45"/>
<line x1="441.4" y1="642.87" x2="445" y2="642.87" stroke="#000" stroke-width="1.45"/>
<line x1="441.4" y1="603.53" x2="445" y2="603.53" stroke="#000" stroke-width="1.45"/>
<line x1="441.4" y1="564.2" x2="445" y2="564.2" stroke="#000" stroke-width="1.45"/>
<text x="440" y="568.21" font-size="10.3" text-anchor="end">60</text>
<text x="440" y="607.71" font-size="10.3" text-anchor="end">40</text>
<text x="440" y="647.31" font-size="10.3" text-anchor="end">20</text>
<text x="440" y="687.01" font-size="10.3" text-anchor="end">0</text>
<line x1="445" y1="682.2" x2="521" y2="682.2" stroke="#000" stroke-width="1.45"/>
<line x1="464" y1="682.2" x2="464" y2="685" stroke="#000" stroke-width="1.45"/>
<line x1="500.7" y1="682.2" x2="500.7" y2="685" stroke="#000" stroke-width="1.45"/>
<rect x="452.3" y="579.7" width="23.6" height="102.4" fill="#fff" stroke="#000" stroke-width="1.4"/>
<rect x="488.9" y="584.6" width="23.7" height="97.5" fill="#0a0ac4" stroke="#000" stroke-width="1.4"/>
<line x1="464" y1="583.5" x2="464" y2="573.7" stroke="#000" stroke-width="1.45"/>
<line x1="458.6" y1="573.7" x2="469.4" y2="573.7" stroke="#000" stroke-width="1.45"/>
<line x1="458.6" y1="583.5" x2="469.4" y2="583.5" stroke="#000" stroke-width="1.45"/>
<line x1="500.7" y1="583.9" x2="500.7" y2="591.6" stroke="#06066a" stroke-width="1.45"/>
<line x1="500.7" y1="583.9" x2="500.7" y2="575.4" stroke="#000" stroke-width="1.45"/>
<line x1="495.3" y1="575.4" x2="506.1" y2="575.4" stroke="#000" stroke-width="1.45"/>
<circle cx="454.7" cy="572.9" r="2.4" fill="#000"/>
<circle cx="473" cy="572.9" r="2.4" fill="#000"/>
<circle cx="461.4" cy="578.4" r="2.4" fill="#000"/>
<circle cx="464.4" cy="581.1" r="2.4" fill="#000"/>
<circle cx="467.5" cy="581.5" r="2.4" fill="#000"/>
<circle cx="460" cy="587.2" r="2.4" fill="#000"/>
<circle cx="466.5" cy="583.1" r="2.4" fill="#000"/>
<circle cx="501.1" cy="574.3" r="2.4" fill="#000"/>
<circle cx="497" cy="575.8" r="2.4" fill="#000"/>
<circle cx="503.5" cy="581.1" r="2.4" fill="#000"/>
<circle cx="494.6" cy="590.6" r="2.4" fill="#000"/>
<circle cx="501.1" cy="593.3" r="2.4" fill="#000"/>
<circle cx="506.2" cy="591.2" r="2.4" fill="#000"/>
<text x="463.7" y="695.3" font-size="10.3" text-anchor="middle">Ctrl</text>
<text x="500.1" y="695.3" font-size="10.3" text-anchor="middle">BT2</text>
<text x="416.7" y="620.3" font-size="11.8" text-anchor="middle" transform="rotate(-90 416.7 620.3)">Total body weight (g)</text>
</svg>
</body></html>
